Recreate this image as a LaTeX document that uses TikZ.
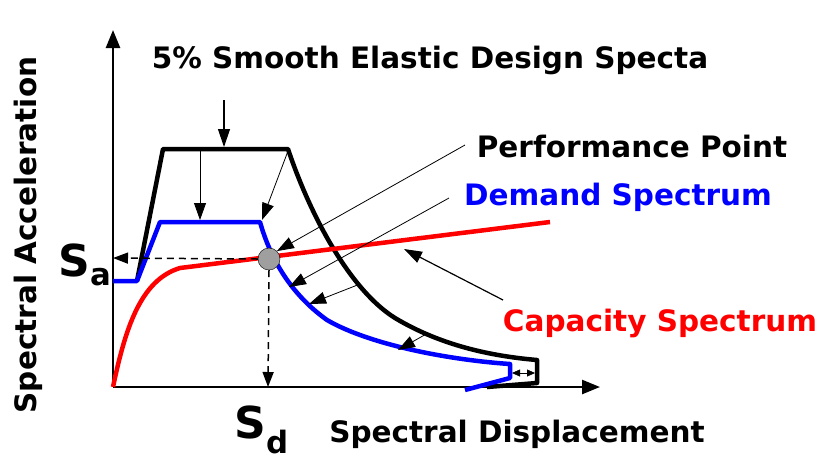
\documentclass[tikz,border=0pt]{standalone}
\usepackage{fontspec}
\setmainfont{DejaVu Sans}
\usetikzlibrary{arrows.meta}
\begin{document}
\begin{tikzpicture}[x=1pt,y=-1pt,
  lbl/.style={font=\bfseries\fontsize{29.5}{32}\selectfont, inner sep=0},
  lead/.style={line width=0.8pt,-{Triangle[length=17pt,width=12pt]}},
  curve/.style={line width=4.5pt, line join=round}]
\useasboundingbox (0,0) rectangle (826,467);
\coordinate (O) at (113,387);
\coordinate (Ytop) at (113,30);
\coordinate (Xend) at (600,387);
\draw[line width=2.5pt,-{Triangle[length=18pt,width=14pt]}] (O) -- (Ytop);
\draw[line width=2.5pt,-{Triangle[length=18pt,width=14pt]}] (O) -- (Xend);
% black design spectrum
\draw[curve,black] (137,281) -- (163,149) -- (288,149)
  .. controls (310,215) and (350,290) .. (395,318)
  .. controls (440,345) and (490,356) .. (537,360) -- (537,383) -- (487,387);
% blue demand spectrum
\draw[curve,blue] (113,281) -- (137,281) -- (160,222) -- (260,222)
  .. controls (268,250) and (285,290) .. (327,320)
  .. controls (370,345) and (450,360) .. (510,364) -- (510,378) -- (465,390);
% red capacity
\draw[curve,red] (113,387) .. controls (125,330) and (140,280) .. (180,268) -- (550,222);
% dashed
\node[circle,draw=black,fill=gray!75,minimum size=22pt,inner sep=0] (pp) at (269,259) {};
\coordinate (ya) at (113,258);
\coordinate (xa) at (268,387);
\draw[line width=1.5pt,dash pattern=on 7pt off 5pt,-{Triangle[length=15pt,width=11pt]}] (pp.west) -- (ya);
\draw[line width=1.5pt,dash pattern=on 7pt off 5pt,-{Triangle[length=15pt,width=11pt]}] (pp.south) -- (xa);
% texts
\node[lbl] (title) at (430,60) {5\% Smooth Elastic Design Specta};
\node[lbl] (perf) at (632,146) {Performance Point};
\node[lbl,text=blue] (dem) at (618,197) {Demand Spectrum};
\node[lbl,text=red] (cap) at (660,323) {Capacity Spectrum};
\node[lbl] (spd) at (517,434) {Spectral Displacement};
\node[lbl,rotate=90] (spa) at (28,235) {Spectral Acceleration};
\node[inner sep=0,font=\bfseries\fontsize{44}{48}\selectfont] (sa) at (85,265) {S\textsubscript{a}};
\node[inner sep=0,font=\bfseries\fontsize{44}{48}\selectfont] (sd) at (262,430) {S\textsubscript{d}};
% leaders
\coordinate (t0) at (224,100); \coordinate (t1) at (224,147);
\draw[line width=1.2pt,-{Triangle[length=18pt,width=12pt]}] (t0) -- (t1);
\coordinate (a0) at (200,151); \coordinate (a1) at (200,220);
\draw[lead] (a0) -- (a1);
\coordinate (b0) at (288,151); \coordinate (b1) at (262,220);
\draw[lead] (b0) -- (b1);
\coordinate (p0) at (465,145);
\draw[lead] (p0) -- (pp.north east);
\coordinate (d0) at (449,198); \coordinate (d1) at (289,287);
\draw[lead] (d0) -- (d1);
\coordinate (e0) at (360,284); \coordinate (e1) at (309,304);
\draw[lead] (e0) -- (e1);
\coordinate (f0) at (428,333); \coordinate (f1) at (398,350);
\draw[lead] (f0) -- (f1);
\coordinate (c0) at (503,300); \coordinate (c1) at (404,249);
\draw[line width=1.2pt,-{Triangle[length=18pt,width=12pt]}] (c0) -- (c1);
\coordinate (g0) at (512,373); \coordinate (g1) at (535,373);
\draw[thin,{Triangle[length=8pt,width=7pt]}-{Triangle[length=8pt,width=7pt]}] (g0) -- (g1);
\end{tikzpicture}
\end{document}
